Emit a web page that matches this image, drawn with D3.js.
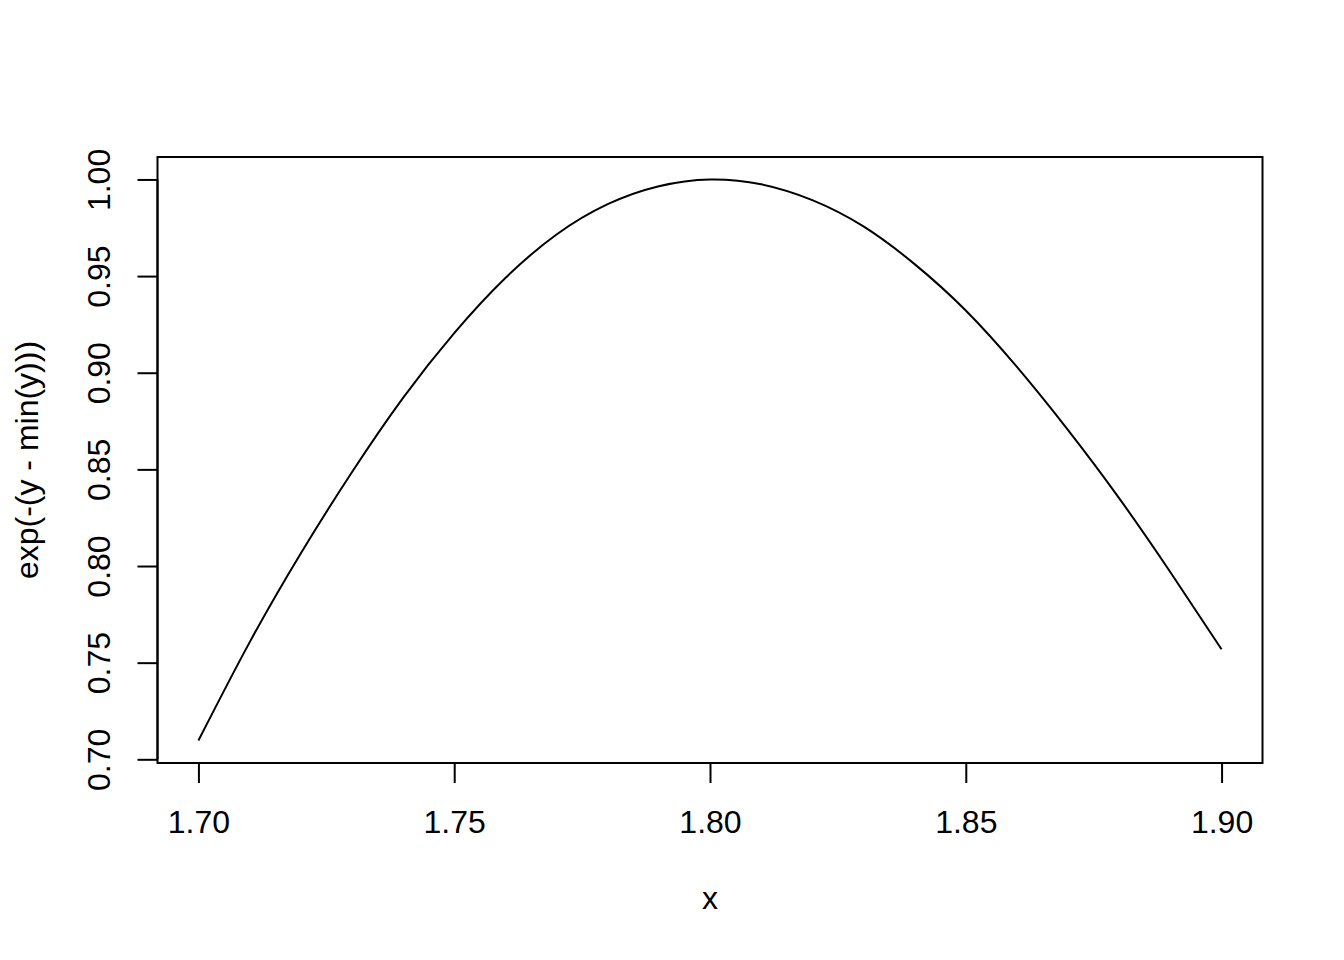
<!DOCTYPE html>
<html>
<head>
<meta charset="utf-8">
<script src="https://cdn.jsdelivr.net/npm/d3@7"></script>
<style>
  html, body { margin: 0; padding: 0; background: #ffffff; }
  svg { display: block; }
  text { font-family: "Liberation Sans", Arial, Helvetica, sans-serif; fill: #000; }
</style>
</head>
<body>
<svg id="chart" width="1344" height="960"></svg>
<script>
// Data
const xValues = [1.70, 1.71, 1.72, 1.73, 1.74, 1.75, 1.76, 1.77, 1.78, 1.79, 1.80,
                 1.81, 1.82, 1.83, 1.84, 1.85, 1.86, 1.87, 1.88, 1.89, 1.90];
const yValues = [0.7097, 0.7605, 0.8065, 0.8485, 0.8870, 0.9205, 0.9490, 0.9715, 0.9872, 0.9965, 1.0000,
                 0.9975, 0.9893, 0.9757, 0.9562, 0.9322, 0.9030, 0.8703, 0.8350, 0.7968, 0.7569];
const xTicks = [1.70, 1.75, 1.80, 1.85, 1.90];
const yTicks = [0.70, 0.75, 0.80, 0.85, 0.90, 0.95, 1.00];
const xLabel = "x";
const yLabel = "exp(-(y - min(y)))";

const svg = d3.select("#chart");
const W = 1344, H = 960;
const box = { left: 157.5, right: 1262.5, top: 157, bottom: 763 };

// R-style 4% axis extension
function padded(ext) {
  const d = (ext[1] - ext[0]) * 0.04;
  return [ext[0] - d, ext[1] + d];
}
const x = d3.scaleLinear().domain(padded(d3.extent(xValues))).range([box.left, box.right]);
const y = d3.scaleLinear().domain(padded(d3.extent(yValues))).range([box.bottom, box.top]);

svg.append("rect").attr("width", W).attr("height", H).attr("fill", "#fff");

// curve
const pts = xValues.map((v, i) => [v, yValues[i]]);
const line = d3.line().x(d => x(d[0])).y(d => y(d[1])).curve(d3.curveNatural);
svg.append("path").datum(pts).attr("d", line)
  .attr("fill", "none").attr("stroke", "#000").attr("stroke-width", 2);

// plot box
svg.append("rect")
  .attr("x", box.left).attr("y", box.top)
  .attr("width", box.right - box.left).attr("height", box.bottom - box.top)
  .attr("fill", "none").attr("stroke", "#000").attr("stroke-width", 2);

// x axis
const xAxis = d3.axisBottom(x).tickValues(xTicks).tickFormat(d3.format(".2f"))
  .tickSize(20).tickPadding(27);
const gx = svg.append("g").attr("transform", `translate(0,${box.bottom})`).call(xAxis);
gx.select(".domain").attr("d", `M${x(xTicks[0])},0H${x(xTicks[xTicks.length-1])}`)
  .attr("stroke", "#000").attr("stroke-width", 2);
gx.selectAll(".tick line").attr("stroke", "#000").attr("stroke-width", 2);
gx.selectAll(".tick text").attr("font-size", 32).attr("dy", "0.71em")
  .attr("font-family", "Liberation Sans, Arial, sans-serif").attr("fill", "#000");

// y axis
const yAxis = d3.axisLeft(y).tickValues(yTicks).tickFormat(d3.format(".2f"))
  .tickSize(20).tickPadding(0);
const gy = svg.append("g").attr("transform", `translate(${box.left},0)`).call(yAxis);
gy.select(".domain").attr("d", `M0,${y(yTicks[0])}V${y(yTicks[yTicks.length-1])}`)
  .attr("stroke", "#000").attr("stroke-width", 2);
gy.selectAll(".tick line").attr("stroke", "#000").attr("stroke-width", 2);
gy.selectAll(".tick text")
  .attr("font-size", 32).attr("font-family", "Liberation Sans, Arial, sans-serif").attr("fill", "#000")
  .attr("x", null).attr("dy", null)
  .attr("text-anchor", "middle")
  .attr("transform", `translate(${110 - box.left},0) rotate(-90)`);

// axis titles
svg.append("text").attr("x", (box.left + box.right) / 2).attr("y", 909)
  .attr("text-anchor", "middle").attr("font-size", 32).text(xLabel);
svg.append("text").attr("transform", `translate(38,${(box.top + box.bottom) / 2}) rotate(-90)`)
  .attr("text-anchor", "middle").attr("font-size", 32).text(yLabel);
</script>
</body>
</html>
